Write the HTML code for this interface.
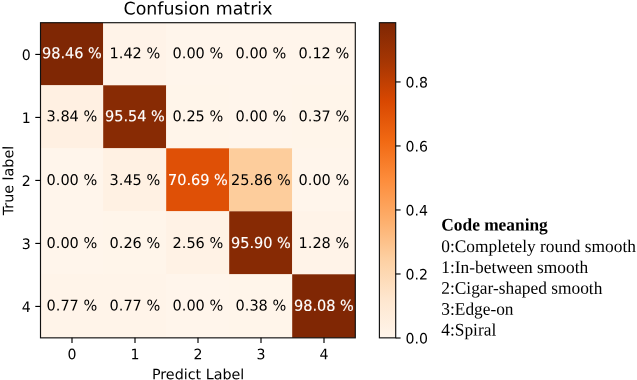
<!DOCTYPE html>
<html><head><meta charset="utf-8"><title>Confusion matrix</title>
<style>
html,body{margin:0;padding:0;background:#fff;}
body{width:637px;height:380px;overflow:hidden;}
svg{display:block;}
.dv{font-family:"DejaVu Sans","Liberation Sans",sans-serif;font-size:14.5px;fill:#000;}
.tk{font-family:"DejaVu Sans","Liberation Sans",sans-serif;font-size:14.1px;fill:#000;}
.ax{font-family:"DejaVu Sans","Liberation Sans",sans-serif;font-size:14.3px;fill:#000;}
.ti{font-family:"DejaVu Sans","Liberation Sans",sans-serif;font-size:17.43px;fill:#000;}
.lg{font-family:"Liberation Serif",serif;font-size:17.35px;fill:#000;}
.w{fill:#fff;stroke:#fff;stroke-width:0.12px;}
</style></head><body>
<svg width="637" height="380" viewBox="0 0 637 380">
<defs><linearGradient id="cb" x1="0" y1="1" x2="0" y2="0">
<stop offset="0.0000" stop-color="#fff5eb"/>
<stop offset="0.1250" stop-color="#fee6ce"/>
<stop offset="0.2500" stop-color="#fdd0a2"/>
<stop offset="0.3750" stop-color="#fdae6b"/>
<stop offset="0.5000" stop-color="#fd8d3c"/>
<stop offset="0.6250" stop-color="#f16913"/>
<stop offset="0.7500" stop-color="#d94801"/>
<stop offset="0.8750" stop-color="#a63603"/>
<stop offset="1.0000" stop-color="#7f2704"/>
</linearGradient></defs>
<rect x="0" y="0" width="637" height="380" fill="#fff"/>
<rect x="40.50" y="22.70" width="314.80" height="315.15" fill="#fff5eb"/>
<rect x="40.50" y="22.70" width="62.70" height="62.60" fill="#7f2704"/>
<rect x="103.20" y="22.70" width="63.00" height="62.60" fill="#fff3e8"/>
<rect x="166.20" y="22.70" width="63.00" height="62.60" fill="#fff5eb"/>
<rect x="229.20" y="22.70" width="63.00" height="62.60" fill="#fff5eb"/>
<rect x="292.20" y="22.70" width="63.10" height="62.60" fill="#fff5eb"/>
<rect x="40.50" y="85.30" width="62.70" height="63.00" fill="#fff0e2"/>
<rect x="103.20" y="85.30" width="63.00" height="63.00" fill="#882b04"/>
<rect x="166.20" y="85.30" width="63.00" height="63.00" fill="#fff5ea"/>
<rect x="229.20" y="85.30" width="63.00" height="63.00" fill="#fff5eb"/>
<rect x="292.20" y="85.30" width="63.10" height="63.00" fill="#fff5ea"/>
<rect x="40.50" y="148.30" width="62.70" height="63.00" fill="#fff5eb"/>
<rect x="103.20" y="148.30" width="63.00" height="63.00" fill="#fff1e3"/>
<rect x="166.20" y="148.30" width="63.00" height="63.00" fill="#df5006"/>
<rect x="229.20" y="148.30" width="63.00" height="63.00" fill="#fdcd9c"/>
<rect x="292.20" y="148.30" width="63.10" height="63.00" fill="#fff5eb"/>
<rect x="40.50" y="211.30" width="62.70" height="63.00" fill="#fff5eb"/>
<rect x="103.20" y="211.30" width="63.00" height="63.00" fill="#fff5ea"/>
<rect x="166.20" y="211.30" width="63.00" height="63.00" fill="#fff2e5"/>
<rect x="229.20" y="211.30" width="63.00" height="63.00" fill="#872a04"/>
<rect x="292.20" y="211.30" width="63.10" height="63.00" fill="#fff3e8"/>
<rect x="40.50" y="274.30" width="62.70" height="63.55" fill="#fff4e9"/>
<rect x="103.20" y="274.30" width="63.00" height="63.55" fill="#fff4e9"/>
<rect x="166.20" y="274.30" width="63.00" height="63.55" fill="#fff5eb"/>
<rect x="229.20" y="274.30" width="63.00" height="63.55" fill="#fff5ea"/>
<rect x="292.20" y="274.30" width="63.10" height="63.55" fill="#802704"/>
<rect x="40.50" y="22.70" width="314.80" height="315.15" fill="none" stroke="#111" stroke-width="1.15"/>
<line x1="72.00" y1="337.85" x2="72.00" y2="343.05" stroke="#000" stroke-width="1.15"/>
<line x1="35.30" y1="54.43" x2="40.50" y2="54.43" stroke="#000" stroke-width="1.15"/>
<text class="tk" transform="translate(72.00 359.20) rotate(0.03) scale(1 1.020)" text-anchor="middle">0</text>
<text class="tk" transform="translate(30.60 59.93) rotate(0.03) scale(1 1.020)" text-anchor="end">0</text>
<line x1="135.00" y1="337.85" x2="135.00" y2="343.05" stroke="#000" stroke-width="1.15"/>
<line x1="35.30" y1="117.43" x2="40.50" y2="117.43" stroke="#000" stroke-width="1.15"/>
<text class="tk" transform="translate(135.00 359.20) rotate(0.03) scale(1 1.020)" text-anchor="middle">1</text>
<text class="tk" transform="translate(30.60 122.93) rotate(0.03) scale(1 1.020)" text-anchor="end">1</text>
<line x1="198.00" y1="337.85" x2="198.00" y2="343.05" stroke="#000" stroke-width="1.15"/>
<line x1="35.30" y1="180.43" x2="40.50" y2="180.43" stroke="#000" stroke-width="1.15"/>
<text class="tk" transform="translate(198.00 359.20) rotate(0.03) scale(1 1.020)" text-anchor="middle">2</text>
<text class="tk" transform="translate(30.60 185.93) rotate(0.03) scale(1 1.020)" text-anchor="end">2</text>
<line x1="261.00" y1="337.85" x2="261.00" y2="343.05" stroke="#000" stroke-width="1.15"/>
<line x1="35.30" y1="243.43" x2="40.50" y2="243.43" stroke="#000" stroke-width="1.15"/>
<text class="tk" transform="translate(261.00 359.20) rotate(0.03) scale(1 1.020)" text-anchor="middle">3</text>
<text class="tk" transform="translate(30.60 248.93) rotate(0.03) scale(1 1.020)" text-anchor="end">3</text>
<line x1="324.00" y1="337.85" x2="324.00" y2="343.05" stroke="#000" stroke-width="1.15"/>
<line x1="35.30" y1="306.43" x2="40.50" y2="306.43" stroke="#000" stroke-width="1.15"/>
<text class="tk" transform="translate(324.00 359.20) rotate(0.03) scale(1 1.020)" text-anchor="middle">4</text>
<text class="tk" transform="translate(30.60 311.93) rotate(0.03) scale(1 1.020)" text-anchor="end">4</text>
<text class="dv w" transform="translate(71.90 58.35) rotate(0.03) scale(1 1.035)" text-anchor="middle">98.46 %</text>
<text class="dv" transform="translate(134.90 58.30) rotate(0.03) scale(1 1.025)" text-anchor="middle">1.42 %</text>
<text class="dv" transform="translate(197.90 58.30) rotate(0.03) scale(1 1.025)" text-anchor="middle">0.00 %</text>
<text class="dv" transform="translate(260.90 58.30) rotate(0.03) scale(1 1.025)" text-anchor="middle">0.00 %</text>
<text class="dv" transform="translate(323.90 58.30) rotate(0.03) scale(1 1.025)" text-anchor="middle">0.12 %</text>
<text class="dv" transform="translate(71.90 121.30) rotate(0.03) scale(1 1.025)" text-anchor="middle">3.84 %</text>
<text class="dv w" transform="translate(134.90 121.35) rotate(0.03) scale(1 1.035)" text-anchor="middle">95.54 %</text>
<text class="dv" transform="translate(197.90 121.30) rotate(0.03) scale(1 1.025)" text-anchor="middle">0.25 %</text>
<text class="dv" transform="translate(260.90 121.30) rotate(0.03) scale(1 1.025)" text-anchor="middle">0.00 %</text>
<text class="dv" transform="translate(323.90 121.30) rotate(0.03) scale(1 1.025)" text-anchor="middle">0.37 %</text>
<text class="dv" transform="translate(71.90 185.00) rotate(0.03) scale(1 1.025)" text-anchor="middle">0.00 %</text>
<text class="dv" transform="translate(134.90 185.00) rotate(0.03) scale(1 1.025)" text-anchor="middle">3.45 %</text>
<text class="dv w" transform="translate(197.90 185.05) rotate(0.03) scale(1 1.035)" text-anchor="middle">70.69 %</text>
<text class="dv" transform="translate(260.90 185.00) rotate(0.03) scale(1 1.025)" text-anchor="middle">25.86 %</text>
<text class="dv" transform="translate(323.90 185.00) rotate(0.03) scale(1 1.025)" text-anchor="middle">0.00 %</text>
<text class="dv" transform="translate(71.90 247.90) rotate(0.03) scale(1 1.025)" text-anchor="middle">0.00 %</text>
<text class="dv" transform="translate(134.90 247.90) rotate(0.03) scale(1 1.025)" text-anchor="middle">0.26 %</text>
<text class="dv" transform="translate(197.90 247.90) rotate(0.03) scale(1 1.025)" text-anchor="middle">2.56 %</text>
<text class="dv w" transform="translate(260.90 247.95) rotate(0.03) scale(1 1.035)" text-anchor="middle">95.90 %</text>
<text class="dv" transform="translate(323.90 247.90) rotate(0.03) scale(1 1.025)" text-anchor="middle">1.28 %</text>
<text class="dv" transform="translate(71.90 310.60) rotate(0.03) scale(1 1.025)" text-anchor="middle">0.77 %</text>
<text class="dv" transform="translate(134.90 310.60) rotate(0.03) scale(1 1.025)" text-anchor="middle">0.77 %</text>
<text class="dv" transform="translate(197.90 310.60) rotate(0.03) scale(1 1.025)" text-anchor="middle">0.00 %</text>
<text class="dv" transform="translate(260.90 310.60) rotate(0.03) scale(1 1.025)" text-anchor="middle">0.38 %</text>
<text class="dv w" transform="translate(323.90 310.65) rotate(0.03) scale(1 1.035)" text-anchor="middle">98.08 %</text>
<text class="ti" transform="translate(198.00 14.50) rotate(0.03) scale(1 1.000)" text-anchor="middle">Confusion matrix</text>
<text class="ax" transform="translate(198.10 379.30) rotate(0.03) scale(1 1.000)" text-anchor="middle">Predict Label</text>
<text class="ax" transform="translate(13.30 180.58) rotate(-90) rotate(0.03) scale(1 1.000)" text-anchor="middle">True label</text>
<rect x="379.40" y="22.70" width="16.30" height="315.15" fill="url(#cb)" stroke="#111" stroke-width="1.15"/>
<line x1="395.70" y1="338.00" x2="400.60" y2="338.00" stroke="#000" stroke-width="1.15"/>
<text class="tk" transform="translate(405.50 343.60) rotate(0.03) scale(1 1.020)" text-anchor="start">0.0</text>
<line x1="395.70" y1="273.98" x2="400.60" y2="273.98" stroke="#000" stroke-width="1.15"/>
<text class="tk" transform="translate(405.50 279.58) rotate(0.03) scale(1 1.020)" text-anchor="start">0.2</text>
<line x1="395.70" y1="209.97" x2="400.60" y2="209.97" stroke="#000" stroke-width="1.15"/>
<text class="tk" transform="translate(405.50 215.57) rotate(0.03) scale(1 1.020)" text-anchor="start">0.4</text>
<line x1="395.70" y1="145.95" x2="400.60" y2="145.95" stroke="#000" stroke-width="1.15"/>
<text class="tk" transform="translate(405.50 151.55) rotate(0.03) scale(1 1.020)" text-anchor="start">0.6</text>
<line x1="395.70" y1="81.94" x2="400.60" y2="81.94" stroke="#000" stroke-width="1.15"/>
<text class="tk" transform="translate(405.50 87.54) rotate(0.03) scale(1 1.020)" text-anchor="start">0.8</text>
<text class="lg" transform="translate(441.30 230.55) rotate(0.03) scale(1 1.020)" text-anchor="start" font-weight="bold">Code meaning</text>
<text class="lg" transform="translate(441.30 252.00) rotate(0.03) scale(1 1.020)" text-anchor="start">0:Completely round smooth</text>
<text class="lg" transform="translate(441.30 272.90) rotate(0.03) scale(1 1.020)" text-anchor="start">1:In-between smooth</text>
<text class="lg" transform="translate(441.30 293.80) rotate(0.03) scale(1 1.020)" text-anchor="start">2:Cigar-shaped smooth</text>
<text class="lg" transform="translate(441.30 314.70) rotate(0.03) scale(1 1.020)" text-anchor="start">3:Edge-on</text>
<text class="lg" transform="translate(441.30 335.60) rotate(0.03) scale(1 1.020)" text-anchor="start">4:Spiral</text>
</svg></body></html>
